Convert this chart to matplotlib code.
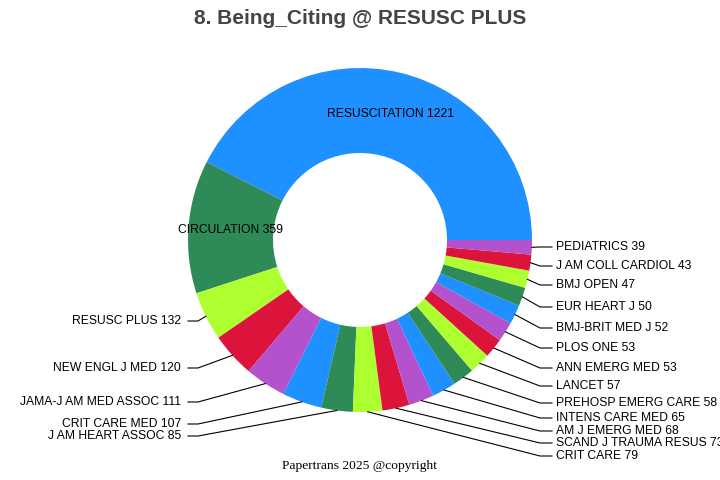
import matplotlib
matplotlib.use("Agg")
import matplotlib.pyplot as plt
import numpy as np

plt.rcParams['font.family'] = ['Liberation Sans', 'DejaVu Sans']

journals = ["RESUSCITATION", "CIRCULATION", "RESUSC PLUS", "NEW ENGL J MED",
            "JAMA-J AM MED ASSOC", "CRIT CARE MED", "J AM HEART ASSOC", "CRIT CARE",
            "SCAND J TRAUMA RESUS", "AM J EMERG MED", "INTENS CARE MED",
            "PREHOSP EMERG CARE", "LANCET", "ANN EMERG MED", "PLOS ONE",
            "BMJ-BRIT MED J", "EUR HEART J", "BMJ OPEN", "J AM COLL CARDIOL", "PEDIATRICS"]
counts = [1221, 359, 132, 120, 111, 107, 85, 79, 73, 68, 65, 58, 57, 53, 53, 52, 50, 47, 43, 39]
palette = ["#1e90ff", "#2e8b57", "#adff2f", "#dc143c", "#b452cd"]

# label layout (pixel rows, top = 0) for the outside labels
label_rows = {2: 321, 3: 368, 4: 402, 5: 424, 6: 436,
              7: 456, 8: 443, 9: 431, 10: 418, 11: 403, 12: 386, 13: 368,
              14: 348, 15: 328, 16: 307, 17: 285, 18: 266, 19: 247}

W, H = 720, 480
cx, cy = 360, 240
R, r_in = 172, 87

fig = plt.figure(figsize=(7.2, 4.8), dpi=100)
ax = fig.add_axes([0, 0, 1, 1])

colors = [palette[i % len(palette)] for i in range(len(counts))]
wedges, _ = ax.pie(counts, colors=colors, startangle=0, counterclock=True,
                   center=(cx, cy), radius=R, wedgeprops=dict(width=R - r_in, linewidth=0),
                   frame=True)
ax.set_xlim(0, W)
ax.set_ylim(0, H)
ax.set_aspect('equal')
ax.axis('off')

total = sum(counts)
cum = 0
for i, (name, v) in enumerate(zip(journals, counts)):
    mid = np.deg2rad((cum + v / 2) / total * 360)
    cum += v
    txt = f"{name} {v}"
    if i < 2:
        rm = (R + r_in) / 2
        ax.text(cx + rm * np.cos(mid), cy + rm * np.sin(mid), txt,
                ha='center', va='center', fontsize=8.7, color='black')
        continue
    px, py = cx + R * np.cos(mid), cy + R * np.sin(mid)
    ly = H - label_rows[i]
    if np.cos(mid) >= 0 or i >= 7:
        xs = [px, 540, 552]
        tx, ha = 556, 'left'
    else:
        xs = [px, 198, 188]
        tx, ha = 181, 'right'
    ax.plot(xs, [py, ly, ly], color='black', linewidth=0.8)
    ax.text(tx, ly, txt, ha=ha, va='center', fontsize=8.7, color='black')

fig.text(0.5, 1 - 19 / H, "8. Being_Citing @ RESUSC PLUS", ha='center', va='center',
         fontsize=15, fontweight='bold', color='#444444')
fig.text(0.5, 1 - 466 / H, "Papertrans 2025 @copyright", ha='center', va='center',
         fontsize=9.7, family=['Liberation Serif', 'DejaVu Serif'], color='black')

fig.savefig("out.png", dpi=100)
